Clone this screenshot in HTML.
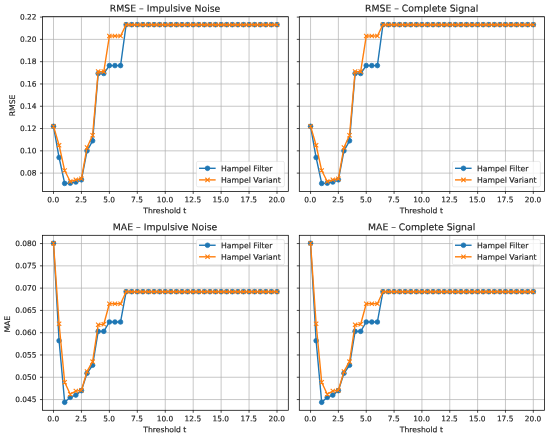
<!DOCTYPE html>
<html lang="en"><head><meta charset="utf-8"><title>Hampel filter error vs threshold</title>
<style>html,body{margin:0;padding:0;background:#fff}body{width:550px;height:439px;overflow:hidden}svg{display:block}</style>
</head><body>
<svg width="550" height="439" viewBox="0 0 550 439" font-family="'DejaVu Sans', 'Liberation Sans', sans-serif" font-size="7.77px" fill="#000"><style>text{fill:#1c1c1c;stroke:#1c1c1c;stroke-width:0.15px;stroke-linejoin:round}</style>
<rect width="550" height="439" fill="#fff"/>
<g>
<clipPath id="c1"><rect x="42.46" y="16.68" width="245.84" height="174.72"/></clipPath>
<path d="M53.50 16.68V191.40M81.44 16.68V191.40M109.38 16.68V191.40M137.31 16.68V191.40M165.25 16.68V191.40M193.19 16.68V191.40M221.12 16.68V191.40M249.06 16.68V191.40M277.00 16.68V191.40M42.46 173.12H288.30M42.46 150.83H288.30M42.46 128.54H288.30M42.46 106.25H288.30M42.46 83.96H288.30M42.46 61.68H288.30M42.46 39.39H288.30M42.46 17.10H288.30" stroke="#b0b0b0" stroke-width="0.700" fill="none"/>
<path d="M53.50 191.40v2.50M81.44 191.40v2.50M109.38 191.40v2.50M137.31 191.40v2.50M165.25 191.40v2.50M193.19 191.40v2.50M221.12 191.40v2.50M249.06 191.40v2.50M277.00 191.40v2.50M42.46 173.12h-2.50M42.46 150.83h-2.50M42.46 128.54h-2.50M42.46 106.25h-2.50M42.46 83.96h-2.50M42.46 61.68h-2.50M42.46 39.39h-2.50M42.46 17.10h-2.50" stroke="#000" stroke-width="0.700" fill="none"/>
<g clip-path="url(#c1)">
<polyline points="53.50,126.31 59.09,157.51 64.67,183.42 70.26,183.15 75.85,182.03 81.44,179.80 87.03,150.83 92.61,140.80 98.20,73.49 103.79,73.49 109.38,65.58 114.96,65.58 120.55,65.58 126.14,24.68 131.72,24.68 137.31,24.68 142.90,24.68 148.49,24.68 154.07,24.68 159.66,24.68 165.25,24.68 170.84,24.68 176.43,24.68 182.01,24.68 187.60,24.68 193.19,24.68 198.78,24.68 204.36,24.68 209.95,24.68 215.54,24.68 221.12,24.68 226.71,24.68 232.30,24.68 237.89,24.68 243.47,24.68 249.06,24.68 254.65,24.68 260.24,24.68 265.82,24.68 271.41,24.68 277.00,24.68" fill="none" stroke="#1f77b4" stroke-width="1.400" stroke-linejoin="round"/>
<circle cx="53.50" cy="126.31" r="2.33" fill="#1f77b4" stroke="#1f77b4" stroke-width="0.777"/>
<circle cx="59.09" cy="157.51" r="2.33" fill="#1f77b4" stroke="#1f77b4" stroke-width="0.777"/>
<circle cx="64.67" cy="183.42" r="2.33" fill="#1f77b4" stroke="#1f77b4" stroke-width="0.777"/>
<circle cx="70.26" cy="183.15" r="2.33" fill="#1f77b4" stroke="#1f77b4" stroke-width="0.777"/>
<circle cx="75.85" cy="182.03" r="2.33" fill="#1f77b4" stroke="#1f77b4" stroke-width="0.777"/>
<circle cx="81.44" cy="179.80" r="2.33" fill="#1f77b4" stroke="#1f77b4" stroke-width="0.777"/>
<circle cx="87.03" cy="150.83" r="2.33" fill="#1f77b4" stroke="#1f77b4" stroke-width="0.777"/>
<circle cx="92.61" cy="140.80" r="2.33" fill="#1f77b4" stroke="#1f77b4" stroke-width="0.777"/>
<circle cx="98.20" cy="73.49" r="2.33" fill="#1f77b4" stroke="#1f77b4" stroke-width="0.777"/>
<circle cx="103.79" cy="73.49" r="2.33" fill="#1f77b4" stroke="#1f77b4" stroke-width="0.777"/>
<circle cx="109.38" cy="65.58" r="2.33" fill="#1f77b4" stroke="#1f77b4" stroke-width="0.777"/>
<circle cx="114.96" cy="65.58" r="2.33" fill="#1f77b4" stroke="#1f77b4" stroke-width="0.777"/>
<circle cx="120.55" cy="65.58" r="2.33" fill="#1f77b4" stroke="#1f77b4" stroke-width="0.777"/>
<circle cx="126.14" cy="24.68" r="2.33" fill="#1f77b4" stroke="#1f77b4" stroke-width="0.777"/>
<circle cx="131.72" cy="24.68" r="2.33" fill="#1f77b4" stroke="#1f77b4" stroke-width="0.777"/>
<circle cx="137.31" cy="24.68" r="2.33" fill="#1f77b4" stroke="#1f77b4" stroke-width="0.777"/>
<circle cx="142.90" cy="24.68" r="2.33" fill="#1f77b4" stroke="#1f77b4" stroke-width="0.777"/>
<circle cx="148.49" cy="24.68" r="2.33" fill="#1f77b4" stroke="#1f77b4" stroke-width="0.777"/>
<circle cx="154.07" cy="24.68" r="2.33" fill="#1f77b4" stroke="#1f77b4" stroke-width="0.777"/>
<circle cx="159.66" cy="24.68" r="2.33" fill="#1f77b4" stroke="#1f77b4" stroke-width="0.777"/>
<circle cx="165.25" cy="24.68" r="2.33" fill="#1f77b4" stroke="#1f77b4" stroke-width="0.777"/>
<circle cx="170.84" cy="24.68" r="2.33" fill="#1f77b4" stroke="#1f77b4" stroke-width="0.777"/>
<circle cx="176.43" cy="24.68" r="2.33" fill="#1f77b4" stroke="#1f77b4" stroke-width="0.777"/>
<circle cx="182.01" cy="24.68" r="2.33" fill="#1f77b4" stroke="#1f77b4" stroke-width="0.777"/>
<circle cx="187.60" cy="24.68" r="2.33" fill="#1f77b4" stroke="#1f77b4" stroke-width="0.777"/>
<circle cx="193.19" cy="24.68" r="2.33" fill="#1f77b4" stroke="#1f77b4" stroke-width="0.777"/>
<circle cx="198.78" cy="24.68" r="2.33" fill="#1f77b4" stroke="#1f77b4" stroke-width="0.777"/>
<circle cx="204.36" cy="24.68" r="2.33" fill="#1f77b4" stroke="#1f77b4" stroke-width="0.777"/>
<circle cx="209.95" cy="24.68" r="2.33" fill="#1f77b4" stroke="#1f77b4" stroke-width="0.777"/>
<circle cx="215.54" cy="24.68" r="2.33" fill="#1f77b4" stroke="#1f77b4" stroke-width="0.777"/>
<circle cx="221.12" cy="24.68" r="2.33" fill="#1f77b4" stroke="#1f77b4" stroke-width="0.777"/>
<circle cx="226.71" cy="24.68" r="2.33" fill="#1f77b4" stroke="#1f77b4" stroke-width="0.777"/>
<circle cx="232.30" cy="24.68" r="2.33" fill="#1f77b4" stroke="#1f77b4" stroke-width="0.777"/>
<circle cx="237.89" cy="24.68" r="2.33" fill="#1f77b4" stroke="#1f77b4" stroke-width="0.777"/>
<circle cx="243.47" cy="24.68" r="2.33" fill="#1f77b4" stroke="#1f77b4" stroke-width="0.777"/>
<circle cx="249.06" cy="24.68" r="2.33" fill="#1f77b4" stroke="#1f77b4" stroke-width="0.777"/>
<circle cx="254.65" cy="24.68" r="2.33" fill="#1f77b4" stroke="#1f77b4" stroke-width="0.777"/>
<circle cx="260.24" cy="24.68" r="2.33" fill="#1f77b4" stroke="#1f77b4" stroke-width="0.777"/>
<circle cx="265.82" cy="24.68" r="2.33" fill="#1f77b4" stroke="#1f77b4" stroke-width="0.777"/>
<circle cx="271.41" cy="24.68" r="2.33" fill="#1f77b4" stroke="#1f77b4" stroke-width="0.777"/>
<circle cx="277.00" cy="24.68" r="2.33" fill="#1f77b4" stroke="#1f77b4" stroke-width="0.777"/>
<polyline points="53.50,126.31 59.09,145.26 64.67,170.55 70.26,181.47 75.85,179.80 81.44,178.69 87.03,147.48 92.61,135.23 98.20,71.59 103.79,71.59 109.38,36.04 114.96,36.04 120.55,36.04 126.14,24.68 131.72,24.68 137.31,24.68 142.90,24.68 148.49,24.68 154.07,24.68 159.66,24.68 165.25,24.68 170.84,24.68 176.43,24.68 182.01,24.68 187.60,24.68 193.19,24.68 198.78,24.68 204.36,24.68 209.95,24.68 215.54,24.68 221.12,24.68 226.71,24.68 232.30,24.68 237.89,24.68 243.47,24.68 249.06,24.68 254.65,24.68 260.24,24.68 265.82,24.68 271.41,24.68 277.00,24.68" fill="none" stroke="#ff7f0e" stroke-width="1.400" stroke-linejoin="round"/>
<path d="M51.35 124.16l4.30 4.30M51.35 128.46l4.30 -4.30M56.94 143.11l4.30 4.30M56.94 147.41l4.30 -4.30M62.52 168.40l4.30 4.30M62.52 172.70l4.30 -4.30M68.11 179.32l4.30 4.30M68.11 183.62l4.30 -4.30M73.70 177.65l4.30 4.30M73.70 181.95l4.30 -4.30M79.29 176.54l4.30 4.30M79.29 180.84l4.30 -4.30M84.88 145.33l4.30 4.30M84.88 149.63l4.30 -4.30M90.46 133.08l4.30 4.30M90.46 137.38l4.30 -4.30M96.05 69.44l4.30 4.30M96.05 73.74l4.30 -4.30M101.64 69.44l4.30 4.30M101.64 73.74l4.30 -4.30M107.22 33.89l4.30 4.30M107.22 38.19l4.30 -4.30M112.81 33.89l4.30 4.30M112.81 38.19l4.30 -4.30M118.40 33.89l4.30 4.30M118.40 38.19l4.30 -4.30M123.99 22.53l4.30 4.30M123.99 26.83l4.30 -4.30M129.57 22.53l4.30 4.30M129.57 26.83l4.30 -4.30M135.16 22.53l4.30 4.30M135.16 26.83l4.30 -4.30M140.75 22.53l4.30 4.30M140.75 26.83l4.30 -4.30M146.34 22.53l4.30 4.30M146.34 26.83l4.30 -4.30M151.92 22.53l4.30 4.30M151.92 26.83l4.30 -4.30M157.51 22.53l4.30 4.30M157.51 26.83l4.30 -4.30M163.10 22.53l4.30 4.30M163.10 26.83l4.30 -4.30M168.69 22.53l4.30 4.30M168.69 26.83l4.30 -4.30M174.28 22.53l4.30 4.30M174.28 26.83l4.30 -4.30M179.86 22.53l4.30 4.30M179.86 26.83l4.30 -4.30M185.45 22.53l4.30 4.30M185.45 26.83l4.30 -4.30M191.04 22.53l4.30 4.30M191.04 26.83l4.30 -4.30M196.62 22.53l4.30 4.30M196.62 26.83l4.30 -4.30M202.21 22.53l4.30 4.30M202.21 26.83l4.30 -4.30M207.80 22.53l4.30 4.30M207.80 26.83l4.30 -4.30M213.39 22.53l4.30 4.30M213.39 26.83l4.30 -4.30M218.97 22.53l4.30 4.30M218.97 26.83l4.30 -4.30M224.56 22.53l4.30 4.30M224.56 26.83l4.30 -4.30M230.15 22.53l4.30 4.30M230.15 26.83l4.30 -4.30M235.74 22.53l4.30 4.30M235.74 26.83l4.30 -4.30M241.32 22.53l4.30 4.30M241.32 26.83l4.30 -4.30M246.91 22.53l4.30 4.30M246.91 26.83l4.30 -4.30M252.50 22.53l4.30 4.30M252.50 26.83l4.30 -4.30M258.09 22.53l4.30 4.30M258.09 26.83l4.30 -4.30M263.68 22.53l4.30 4.30M263.68 26.83l4.30 -4.30M269.26 22.53l4.30 4.30M269.26 26.83l4.30 -4.30M274.85 22.53l4.30 4.30M274.85 26.83l4.30 -4.30" stroke="#ff7f0e" stroke-width="1.100" fill="none"/>
</g>
<rect x="42.46" y="16.68" width="245.84" height="174.72" fill="none" stroke="#000" stroke-width="0.750"/>
<text x="53.20" y="202.30" text-anchor="middle" font-size="7.45px" transform="rotate(0.03 53.20 202.30)">0.0</text>
<text x="81.14" y="202.30" text-anchor="middle" font-size="7.45px" transform="rotate(0.03 81.14 202.30)">2.5</text>
<text x="109.08" y="202.30" text-anchor="middle" font-size="7.45px" transform="rotate(0.03 109.08 202.30)">5.0</text>
<text x="137.01" y="202.30" text-anchor="middle" font-size="7.45px" transform="rotate(0.03 137.01 202.30)">7.5</text>
<text x="164.95" y="202.30" text-anchor="middle" font-size="7.45px" transform="rotate(0.03 164.95 202.30)">10.0</text>
<text x="192.89" y="202.30" text-anchor="middle" font-size="7.45px" transform="rotate(0.03 192.89 202.30)">12.5</text>
<text x="220.82" y="202.30" text-anchor="middle" font-size="7.45px" transform="rotate(0.03 220.82 202.30)">15.0</text>
<text x="248.76" y="202.30" text-anchor="middle" font-size="7.45px" transform="rotate(0.03 248.76 202.30)">17.5</text>
<text x="276.70" y="202.30" text-anchor="middle" font-size="7.45px" transform="rotate(0.03 276.70 202.30)">20.0</text>
<text x="164.78" y="213.37" text-anchor="middle" font-size="7.65px" transform="rotate(0.03 164.78 213.37)">Threshold t</text>
<text x="36.52" y="175.57" text-anchor="end" font-size="7.45px" transform="rotate(0.03 36.52 175.57)">0.08</text>
<text x="36.52" y="153.28" text-anchor="end" font-size="7.45px" transform="rotate(0.03 36.52 153.28)">0.10</text>
<text x="36.52" y="130.99" text-anchor="end" font-size="7.45px" transform="rotate(0.03 36.52 130.99)">0.12</text>
<text x="36.52" y="108.70" text-anchor="end" font-size="7.45px" transform="rotate(0.03 36.52 108.70)">0.14</text>
<text x="36.52" y="86.41" text-anchor="end" font-size="7.45px" transform="rotate(0.03 36.52 86.41)">0.16</text>
<text x="36.52" y="64.13" text-anchor="end" font-size="7.45px" transform="rotate(0.03 36.52 64.13)">0.18</text>
<text x="36.52" y="41.84" text-anchor="end" font-size="7.45px" transform="rotate(0.03 36.52 41.84)">0.20</text>
<text x="36.52" y="19.55" text-anchor="end" font-size="7.45px" transform="rotate(0.03 36.52 19.55)">0.22</text>
<text x="14.99" y="105.39" text-anchor="middle" font-size="7.70px" transform="rotate(-89.97 14.99 105.39)">RMSE</text>
<text x="165.08" y="11.62" text-anchor="middle" font-size="9.32px" transform="rotate(0.03 165.08 11.62)">RMSE – Impulsive Noise</text>
<rect x="196.45" y="161.40" width="87.95" height="25.45" rx="1.55" fill="#fff" fill-opacity="0.8" stroke="#ccc" stroke-opacity="0.5" stroke-width="0.777"/>
<path d="M199.75 168.30H214.95" stroke="#1f77b4" stroke-width="1.400" stroke-linecap="square"/>
<circle cx="207.52" cy="168.30" r="2.33" fill="#1f77b4" stroke="#1f77b4" stroke-width="0.777"/>
<text x="221.00" y="171.20" font-size="7.72px" transform="rotate(0.03 221.00 171.20)">Hampel Filter</text>
<path d="M199.75 179.90H214.95" stroke="#ff7f0e" stroke-width="1.400" stroke-linecap="square"/>
<path d="M205.37 177.75l4.30 4.30M205.37 182.05l4.30 -4.30" stroke="#ff7f0e" stroke-width="1.100" fill="none"/>
<text x="221.00" y="182.80" font-size="7.72px" transform="rotate(0.03 221.00 182.80)">Hampel Variant</text>
</g>
<g>
<clipPath id="c2"><rect x="299.30" y="16.68" width="245.30" height="174.72"/></clipPath>
<path d="M310.55 16.68V191.40M338.39 16.68V191.40M366.24 16.68V191.40M394.08 16.68V191.40M421.92 16.68V191.40M449.77 16.68V191.40M477.61 16.68V191.40M505.46 16.68V191.40M533.30 16.68V191.40M299.30 173.12H544.60M299.30 150.83H544.60M299.30 128.54H544.60M299.30 106.25H544.60M299.30 83.96H544.60M299.30 61.68H544.60M299.30 39.39H544.60M299.30 17.10H544.60" stroke="#b0b0b0" stroke-width="0.700" fill="none"/>
<path d="M310.55 191.40v2.50M338.39 191.40v2.50M366.24 191.40v2.50M394.08 191.40v2.50M421.92 191.40v2.50M449.77 191.40v2.50M477.61 191.40v2.50M505.46 191.40v2.50M533.30 191.40v2.50M299.30 173.12h-2.50M299.30 150.83h-2.50M299.30 128.54h-2.50M299.30 106.25h-2.50M299.30 83.96h-2.50M299.30 61.68h-2.50M299.30 39.39h-2.50M299.30 17.10h-2.50" stroke="#000" stroke-width="0.700" fill="none"/>
<g clip-path="url(#c2)">
<polyline points="310.55,126.31 316.12,157.51 321.69,183.42 327.26,183.15 332.82,182.03 338.39,179.80 343.96,150.83 349.53,140.80 355.10,73.49 360.67,73.49 366.24,65.58 371.81,65.58 377.38,65.58 382.94,24.68 388.51,24.68 394.08,24.68 399.65,24.68 405.22,24.68 410.79,24.68 416.36,24.68 421.92,24.68 427.49,24.68 433.06,24.68 438.63,24.68 444.20,24.68 449.77,24.68 455.34,24.68 460.91,24.68 466.47,24.68 472.04,24.68 477.61,24.68 483.18,24.68 488.75,24.68 494.32,24.68 499.89,24.68 505.46,24.68 511.02,24.68 516.59,24.68 522.16,24.68 527.73,24.68 533.30,24.68" fill="none" stroke="#1f77b4" stroke-width="1.400" stroke-linejoin="round"/>
<circle cx="310.55" cy="126.31" r="2.33" fill="#1f77b4" stroke="#1f77b4" stroke-width="0.777"/>
<circle cx="316.12" cy="157.51" r="2.33" fill="#1f77b4" stroke="#1f77b4" stroke-width="0.777"/>
<circle cx="321.69" cy="183.42" r="2.33" fill="#1f77b4" stroke="#1f77b4" stroke-width="0.777"/>
<circle cx="327.26" cy="183.15" r="2.33" fill="#1f77b4" stroke="#1f77b4" stroke-width="0.777"/>
<circle cx="332.82" cy="182.03" r="2.33" fill="#1f77b4" stroke="#1f77b4" stroke-width="0.777"/>
<circle cx="338.39" cy="179.80" r="2.33" fill="#1f77b4" stroke="#1f77b4" stroke-width="0.777"/>
<circle cx="343.96" cy="150.83" r="2.33" fill="#1f77b4" stroke="#1f77b4" stroke-width="0.777"/>
<circle cx="349.53" cy="140.80" r="2.33" fill="#1f77b4" stroke="#1f77b4" stroke-width="0.777"/>
<circle cx="355.10" cy="73.49" r="2.33" fill="#1f77b4" stroke="#1f77b4" stroke-width="0.777"/>
<circle cx="360.67" cy="73.49" r="2.33" fill="#1f77b4" stroke="#1f77b4" stroke-width="0.777"/>
<circle cx="366.24" cy="65.58" r="2.33" fill="#1f77b4" stroke="#1f77b4" stroke-width="0.777"/>
<circle cx="371.81" cy="65.58" r="2.33" fill="#1f77b4" stroke="#1f77b4" stroke-width="0.777"/>
<circle cx="377.38" cy="65.58" r="2.33" fill="#1f77b4" stroke="#1f77b4" stroke-width="0.777"/>
<circle cx="382.94" cy="24.68" r="2.33" fill="#1f77b4" stroke="#1f77b4" stroke-width="0.777"/>
<circle cx="388.51" cy="24.68" r="2.33" fill="#1f77b4" stroke="#1f77b4" stroke-width="0.777"/>
<circle cx="394.08" cy="24.68" r="2.33" fill="#1f77b4" stroke="#1f77b4" stroke-width="0.777"/>
<circle cx="399.65" cy="24.68" r="2.33" fill="#1f77b4" stroke="#1f77b4" stroke-width="0.777"/>
<circle cx="405.22" cy="24.68" r="2.33" fill="#1f77b4" stroke="#1f77b4" stroke-width="0.777"/>
<circle cx="410.79" cy="24.68" r="2.33" fill="#1f77b4" stroke="#1f77b4" stroke-width="0.777"/>
<circle cx="416.36" cy="24.68" r="2.33" fill="#1f77b4" stroke="#1f77b4" stroke-width="0.777"/>
<circle cx="421.92" cy="24.68" r="2.33" fill="#1f77b4" stroke="#1f77b4" stroke-width="0.777"/>
<circle cx="427.49" cy="24.68" r="2.33" fill="#1f77b4" stroke="#1f77b4" stroke-width="0.777"/>
<circle cx="433.06" cy="24.68" r="2.33" fill="#1f77b4" stroke="#1f77b4" stroke-width="0.777"/>
<circle cx="438.63" cy="24.68" r="2.33" fill="#1f77b4" stroke="#1f77b4" stroke-width="0.777"/>
<circle cx="444.20" cy="24.68" r="2.33" fill="#1f77b4" stroke="#1f77b4" stroke-width="0.777"/>
<circle cx="449.77" cy="24.68" r="2.33" fill="#1f77b4" stroke="#1f77b4" stroke-width="0.777"/>
<circle cx="455.34" cy="24.68" r="2.33" fill="#1f77b4" stroke="#1f77b4" stroke-width="0.777"/>
<circle cx="460.91" cy="24.68" r="2.33" fill="#1f77b4" stroke="#1f77b4" stroke-width="0.777"/>
<circle cx="466.47" cy="24.68" r="2.33" fill="#1f77b4" stroke="#1f77b4" stroke-width="0.777"/>
<circle cx="472.04" cy="24.68" r="2.33" fill="#1f77b4" stroke="#1f77b4" stroke-width="0.777"/>
<circle cx="477.61" cy="24.68" r="2.33" fill="#1f77b4" stroke="#1f77b4" stroke-width="0.777"/>
<circle cx="483.18" cy="24.68" r="2.33" fill="#1f77b4" stroke="#1f77b4" stroke-width="0.777"/>
<circle cx="488.75" cy="24.68" r="2.33" fill="#1f77b4" stroke="#1f77b4" stroke-width="0.777"/>
<circle cx="494.32" cy="24.68" r="2.33" fill="#1f77b4" stroke="#1f77b4" stroke-width="0.777"/>
<circle cx="499.89" cy="24.68" r="2.33" fill="#1f77b4" stroke="#1f77b4" stroke-width="0.777"/>
<circle cx="505.46" cy="24.68" r="2.33" fill="#1f77b4" stroke="#1f77b4" stroke-width="0.777"/>
<circle cx="511.02" cy="24.68" r="2.33" fill="#1f77b4" stroke="#1f77b4" stroke-width="0.777"/>
<circle cx="516.59" cy="24.68" r="2.33" fill="#1f77b4" stroke="#1f77b4" stroke-width="0.777"/>
<circle cx="522.16" cy="24.68" r="2.33" fill="#1f77b4" stroke="#1f77b4" stroke-width="0.777"/>
<circle cx="527.73" cy="24.68" r="2.33" fill="#1f77b4" stroke="#1f77b4" stroke-width="0.777"/>
<circle cx="533.30" cy="24.68" r="2.33" fill="#1f77b4" stroke="#1f77b4" stroke-width="0.777"/>
<polyline points="310.55,126.31 316.12,145.26 321.69,170.55 327.26,181.47 332.82,179.80 338.39,178.69 343.96,147.48 349.53,135.23 355.10,71.59 360.67,71.59 366.24,36.04 371.81,36.04 377.38,36.04 382.94,24.68 388.51,24.68 394.08,24.68 399.65,24.68 405.22,24.68 410.79,24.68 416.36,24.68 421.92,24.68 427.49,24.68 433.06,24.68 438.63,24.68 444.20,24.68 449.77,24.68 455.34,24.68 460.91,24.68 466.47,24.68 472.04,24.68 477.61,24.68 483.18,24.68 488.75,24.68 494.32,24.68 499.89,24.68 505.46,24.68 511.02,24.68 516.59,24.68 522.16,24.68 527.73,24.68 533.30,24.68" fill="none" stroke="#ff7f0e" stroke-width="1.400" stroke-linejoin="round"/>
<path d="M308.40 124.16l4.30 4.30M308.40 128.46l4.30 -4.30M313.97 143.11l4.30 4.30M313.97 147.41l4.30 -4.30M319.54 168.40l4.30 4.30M319.54 172.70l4.30 -4.30M325.11 179.32l4.30 4.30M325.11 183.62l4.30 -4.30M330.68 177.65l4.30 4.30M330.68 181.95l4.30 -4.30M336.24 176.54l4.30 4.30M336.24 180.84l4.30 -4.30M341.81 145.33l4.30 4.30M341.81 149.63l4.30 -4.30M347.38 133.08l4.30 4.30M347.38 137.38l4.30 -4.30M352.95 69.44l4.30 4.30M352.95 73.74l4.30 -4.30M358.52 69.44l4.30 4.30M358.52 73.74l4.30 -4.30M364.09 33.89l4.30 4.30M364.09 38.19l4.30 -4.30M369.66 33.89l4.30 4.30M369.66 38.19l4.30 -4.30M375.23 33.89l4.30 4.30M375.23 38.19l4.30 -4.30M380.79 22.53l4.30 4.30M380.79 26.83l4.30 -4.30M386.36 22.53l4.30 4.30M386.36 26.83l4.30 -4.30M391.93 22.53l4.30 4.30M391.93 26.83l4.30 -4.30M397.50 22.53l4.30 4.30M397.50 26.83l4.30 -4.30M403.07 22.53l4.30 4.30M403.07 26.83l4.30 -4.30M408.64 22.53l4.30 4.30M408.64 26.83l4.30 -4.30M414.21 22.53l4.30 4.30M414.21 26.83l4.30 -4.30M419.77 22.53l4.30 4.30M419.77 26.83l4.30 -4.30M425.34 22.53l4.30 4.30M425.34 26.83l4.30 -4.30M430.91 22.53l4.30 4.30M430.91 26.83l4.30 -4.30M436.48 22.53l4.30 4.30M436.48 26.83l4.30 -4.30M442.05 22.53l4.30 4.30M442.05 26.83l4.30 -4.30M447.62 22.53l4.30 4.30M447.62 26.83l4.30 -4.30M453.19 22.53l4.30 4.30M453.19 26.83l4.30 -4.30M458.76 22.53l4.30 4.30M458.76 26.83l4.30 -4.30M464.32 22.53l4.30 4.30M464.32 26.83l4.30 -4.30M469.89 22.53l4.30 4.30M469.89 26.83l4.30 -4.30M475.46 22.53l4.30 4.30M475.46 26.83l4.30 -4.30M481.03 22.53l4.30 4.30M481.03 26.83l4.30 -4.30M486.60 22.53l4.30 4.30M486.60 26.83l4.30 -4.30M492.17 22.53l4.30 4.30M492.17 26.83l4.30 -4.30M497.74 22.53l4.30 4.30M497.74 26.83l4.30 -4.30M503.31 22.53l4.30 4.30M503.31 26.83l4.30 -4.30M508.88 22.53l4.30 4.30M508.88 26.83l4.30 -4.30M514.44 22.53l4.30 4.30M514.44 26.83l4.30 -4.30M520.01 22.53l4.30 4.30M520.01 26.83l4.30 -4.30M525.58 22.53l4.30 4.30M525.58 26.83l4.30 -4.30M531.15 22.53l4.30 4.30M531.15 26.83l4.30 -4.30" stroke="#ff7f0e" stroke-width="1.100" fill="none"/>
</g>
<rect x="299.30" y="16.68" width="245.30" height="174.72" fill="none" stroke="#000" stroke-width="0.750"/>
<text x="310.25" y="202.30" text-anchor="middle" font-size="7.45px" transform="rotate(0.03 310.25 202.30)">0.0</text>
<text x="338.09" y="202.30" text-anchor="middle" font-size="7.45px" transform="rotate(0.03 338.09 202.30)">2.5</text>
<text x="365.94" y="202.30" text-anchor="middle" font-size="7.45px" transform="rotate(0.03 365.94 202.30)">5.0</text>
<text x="393.78" y="202.30" text-anchor="middle" font-size="7.45px" transform="rotate(0.03 393.78 202.30)">7.5</text>
<text x="421.62" y="202.30" text-anchor="middle" font-size="7.45px" transform="rotate(0.03 421.62 202.30)">10.0</text>
<text x="449.47" y="202.30" text-anchor="middle" font-size="7.45px" transform="rotate(0.03 449.47 202.30)">12.5</text>
<text x="477.31" y="202.30" text-anchor="middle" font-size="7.45px" transform="rotate(0.03 477.31 202.30)">15.0</text>
<text x="505.16" y="202.30" text-anchor="middle" font-size="7.45px" transform="rotate(0.03 505.16 202.30)">17.5</text>
<text x="533.00" y="202.30" text-anchor="middle" font-size="7.45px" transform="rotate(0.03 533.00 202.30)">20.0</text>
<text x="421.35" y="213.37" text-anchor="middle" font-size="7.65px" transform="rotate(0.03 421.35 213.37)">Threshold t</text>
<text x="421.65" y="11.62" text-anchor="middle" font-size="9.32px" transform="rotate(0.03 421.65 11.62)">RMSE – Complete Signal</text>
<rect x="452.40" y="161.40" width="87.95" height="25.45" rx="1.55" fill="#fff" fill-opacity="0.8" stroke="#ccc" stroke-opacity="0.5" stroke-width="0.777"/>
<path d="M455.70 168.30H470.90" stroke="#1f77b4" stroke-width="1.400" stroke-linecap="square"/>
<circle cx="463.47" cy="168.30" r="2.33" fill="#1f77b4" stroke="#1f77b4" stroke-width="0.777"/>
<text x="476.95" y="171.20" font-size="7.72px" transform="rotate(0.03 476.95 171.20)">Hampel Filter</text>
<path d="M455.70 179.90H470.90" stroke="#ff7f0e" stroke-width="1.400" stroke-linecap="square"/>
<path d="M461.32 177.75l4.30 4.30M461.32 182.05l4.30 -4.30" stroke="#ff7f0e" stroke-width="1.100" fill="none"/>
<text x="476.95" y="182.80" font-size="7.72px" transform="rotate(0.03 476.95 182.80)">Hampel Variant</text>
</g>
<g>
<clipPath id="c3"><rect x="42.46" y="235.30" width="245.84" height="174.98"/></clipPath>
<path d="M53.50 235.30V410.28M81.44 235.30V410.28M109.38 235.30V410.28M137.31 235.30V410.28M165.25 235.30V410.28M193.19 235.30V410.28M221.12 235.30V410.28M249.06 235.30V410.28M277.00 235.30V410.28M42.46 399.55H288.30M42.46 377.26H288.30M42.46 354.98H288.30M42.46 332.69H288.30M42.46 310.41H288.30M42.46 288.12H288.30M42.46 265.84H288.30M42.46 243.55H288.30" stroke="#b0b0b0" stroke-width="0.700" fill="none"/>
<path d="M53.50 410.28v2.50M81.44 410.28v2.50M109.38 410.28v2.50M137.31 410.28v2.50M165.25 410.28v2.50M193.19 410.28v2.50M221.12 410.28v2.50M249.06 410.28v2.50M277.00 410.28v2.50M42.46 399.55h-2.50M42.46 377.26h-2.50M42.46 354.98h-2.50M42.46 332.69h-2.50M42.46 310.41h-2.50M42.46 288.12h-2.50M42.46 265.84h-2.50M42.46 243.55h-2.50" stroke="#000" stroke-width="0.700" fill="none"/>
<g clip-path="url(#c3)">
<polyline points="53.50,243.24 59.09,340.71 64.67,402.31 70.26,397.32 75.85,395.09 81.44,390.63 87.03,373.25 92.61,365.23 98.20,331.35 103.79,331.35 109.38,321.99 114.96,321.99 120.55,321.99 126.14,291.69 131.72,291.69 137.31,291.69 142.90,291.69 148.49,291.69 154.07,291.69 159.66,291.69 165.25,291.69 170.84,291.69 176.43,291.69 182.01,291.69 187.60,291.69 193.19,291.69 198.78,291.69 204.36,291.69 209.95,291.69 215.54,291.69 221.12,291.69 226.71,291.69 232.30,291.69 237.89,291.69 243.47,291.69 249.06,291.69 254.65,291.69 260.24,291.69 265.82,291.69 271.41,291.69 277.00,291.69" fill="none" stroke="#1f77b4" stroke-width="1.400" stroke-linejoin="round"/>
<circle cx="53.50" cy="243.24" r="2.33" fill="#1f77b4" stroke="#1f77b4" stroke-width="0.777"/>
<circle cx="59.09" cy="340.71" r="2.33" fill="#1f77b4" stroke="#1f77b4" stroke-width="0.777"/>
<circle cx="64.67" cy="402.31" r="2.33" fill="#1f77b4" stroke="#1f77b4" stroke-width="0.777"/>
<circle cx="70.26" cy="397.32" r="2.33" fill="#1f77b4" stroke="#1f77b4" stroke-width="0.777"/>
<circle cx="75.85" cy="395.09" r="2.33" fill="#1f77b4" stroke="#1f77b4" stroke-width="0.777"/>
<circle cx="81.44" cy="390.63" r="2.33" fill="#1f77b4" stroke="#1f77b4" stroke-width="0.777"/>
<circle cx="87.03" cy="373.25" r="2.33" fill="#1f77b4" stroke="#1f77b4" stroke-width="0.777"/>
<circle cx="92.61" cy="365.23" r="2.33" fill="#1f77b4" stroke="#1f77b4" stroke-width="0.777"/>
<circle cx="98.20" cy="331.35" r="2.33" fill="#1f77b4" stroke="#1f77b4" stroke-width="0.777"/>
<circle cx="103.79" cy="331.35" r="2.33" fill="#1f77b4" stroke="#1f77b4" stroke-width="0.777"/>
<circle cx="109.38" cy="321.99" r="2.33" fill="#1f77b4" stroke="#1f77b4" stroke-width="0.777"/>
<circle cx="114.96" cy="321.99" r="2.33" fill="#1f77b4" stroke="#1f77b4" stroke-width="0.777"/>
<circle cx="120.55" cy="321.99" r="2.33" fill="#1f77b4" stroke="#1f77b4" stroke-width="0.777"/>
<circle cx="126.14" cy="291.69" r="2.33" fill="#1f77b4" stroke="#1f77b4" stroke-width="0.777"/>
<circle cx="131.72" cy="291.69" r="2.33" fill="#1f77b4" stroke="#1f77b4" stroke-width="0.777"/>
<circle cx="137.31" cy="291.69" r="2.33" fill="#1f77b4" stroke="#1f77b4" stroke-width="0.777"/>
<circle cx="142.90" cy="291.69" r="2.33" fill="#1f77b4" stroke="#1f77b4" stroke-width="0.777"/>
<circle cx="148.49" cy="291.69" r="2.33" fill="#1f77b4" stroke="#1f77b4" stroke-width="0.777"/>
<circle cx="154.07" cy="291.69" r="2.33" fill="#1f77b4" stroke="#1f77b4" stroke-width="0.777"/>
<circle cx="159.66" cy="291.69" r="2.33" fill="#1f77b4" stroke="#1f77b4" stroke-width="0.777"/>
<circle cx="165.25" cy="291.69" r="2.33" fill="#1f77b4" stroke="#1f77b4" stroke-width="0.777"/>
<circle cx="170.84" cy="291.69" r="2.33" fill="#1f77b4" stroke="#1f77b4" stroke-width="0.777"/>
<circle cx="176.43" cy="291.69" r="2.33" fill="#1f77b4" stroke="#1f77b4" stroke-width="0.777"/>
<circle cx="182.01" cy="291.69" r="2.33" fill="#1f77b4" stroke="#1f77b4" stroke-width="0.777"/>
<circle cx="187.60" cy="291.69" r="2.33" fill="#1f77b4" stroke="#1f77b4" stroke-width="0.777"/>
<circle cx="193.19" cy="291.69" r="2.33" fill="#1f77b4" stroke="#1f77b4" stroke-width="0.777"/>
<circle cx="198.78" cy="291.69" r="2.33" fill="#1f77b4" stroke="#1f77b4" stroke-width="0.777"/>
<circle cx="204.36" cy="291.69" r="2.33" fill="#1f77b4" stroke="#1f77b4" stroke-width="0.777"/>
<circle cx="209.95" cy="291.69" r="2.33" fill="#1f77b4" stroke="#1f77b4" stroke-width="0.777"/>
<circle cx="215.54" cy="291.69" r="2.33" fill="#1f77b4" stroke="#1f77b4" stroke-width="0.777"/>
<circle cx="221.12" cy="291.69" r="2.33" fill="#1f77b4" stroke="#1f77b4" stroke-width="0.777"/>
<circle cx="226.71" cy="291.69" r="2.33" fill="#1f77b4" stroke="#1f77b4" stroke-width="0.777"/>
<circle cx="232.30" cy="291.69" r="2.33" fill="#1f77b4" stroke="#1f77b4" stroke-width="0.777"/>
<circle cx="237.89" cy="291.69" r="2.33" fill="#1f77b4" stroke="#1f77b4" stroke-width="0.777"/>
<circle cx="243.47" cy="291.69" r="2.33" fill="#1f77b4" stroke="#1f77b4" stroke-width="0.777"/>
<circle cx="249.06" cy="291.69" r="2.33" fill="#1f77b4" stroke="#1f77b4" stroke-width="0.777"/>
<circle cx="254.65" cy="291.69" r="2.33" fill="#1f77b4" stroke="#1f77b4" stroke-width="0.777"/>
<circle cx="260.24" cy="291.69" r="2.33" fill="#1f77b4" stroke="#1f77b4" stroke-width="0.777"/>
<circle cx="265.82" cy="291.69" r="2.33" fill="#1f77b4" stroke="#1f77b4" stroke-width="0.777"/>
<circle cx="271.41" cy="291.69" r="2.33" fill="#1f77b4" stroke="#1f77b4" stroke-width="0.777"/>
<circle cx="277.00" cy="291.69" r="2.33" fill="#1f77b4" stroke="#1f77b4" stroke-width="0.777"/>
<polyline points="53.50,243.24 59.09,323.78 64.67,382.17 70.26,394.20 75.85,391.08 81.44,390.19 87.03,371.47 92.61,361.66 98.20,324.67 103.79,324.22 109.38,303.72 114.96,303.72 120.55,303.72 126.14,291.69 131.72,291.69 137.31,291.69 142.90,291.69 148.49,291.69 154.07,291.69 159.66,291.69 165.25,291.69 170.84,291.69 176.43,291.69 182.01,291.69 187.60,291.69 193.19,291.69 198.78,291.69 204.36,291.69 209.95,291.69 215.54,291.69 221.12,291.69 226.71,291.69 232.30,291.69 237.89,291.69 243.47,291.69 249.06,291.69 254.65,291.69 260.24,291.69 265.82,291.69 271.41,291.69 277.00,291.69" fill="none" stroke="#ff7f0e" stroke-width="1.400" stroke-linejoin="round"/>
<path d="M51.35 241.09l4.30 4.30M51.35 245.39l4.30 -4.30M56.94 321.63l4.30 4.30M56.94 325.93l4.30 -4.30M62.52 380.02l4.30 4.30M62.52 384.32l4.30 -4.30M68.11 392.05l4.30 4.30M68.11 396.35l4.30 -4.30M73.70 388.93l4.30 4.30M73.70 393.23l4.30 -4.30M79.29 388.04l4.30 4.30M79.29 392.34l4.30 -4.30M84.88 369.32l4.30 4.30M84.88 373.62l4.30 -4.30M90.46 359.51l4.30 4.30M90.46 363.81l4.30 -4.30M96.05 322.52l4.30 4.30M96.05 326.82l4.30 -4.30M101.64 322.07l4.30 4.30M101.64 326.37l4.30 -4.30M107.22 301.57l4.30 4.30M107.22 305.87l4.30 -4.30M112.81 301.57l4.30 4.30M112.81 305.87l4.30 -4.30M118.40 301.57l4.30 4.30M118.40 305.87l4.30 -4.30M123.99 289.54l4.30 4.30M123.99 293.84l4.30 -4.30M129.57 289.54l4.30 4.30M129.57 293.84l4.30 -4.30M135.16 289.54l4.30 4.30M135.16 293.84l4.30 -4.30M140.75 289.54l4.30 4.30M140.75 293.84l4.30 -4.30M146.34 289.54l4.30 4.30M146.34 293.84l4.30 -4.30M151.92 289.54l4.30 4.30M151.92 293.84l4.30 -4.30M157.51 289.54l4.30 4.30M157.51 293.84l4.30 -4.30M163.10 289.54l4.30 4.30M163.10 293.84l4.30 -4.30M168.69 289.54l4.30 4.30M168.69 293.84l4.30 -4.30M174.28 289.54l4.30 4.30M174.28 293.84l4.30 -4.30M179.86 289.54l4.30 4.30M179.86 293.84l4.30 -4.30M185.45 289.54l4.30 4.30M185.45 293.84l4.30 -4.30M191.04 289.54l4.30 4.30M191.04 293.84l4.30 -4.30M196.62 289.54l4.30 4.30M196.62 293.84l4.30 -4.30M202.21 289.54l4.30 4.30M202.21 293.84l4.30 -4.30M207.80 289.54l4.30 4.30M207.80 293.84l4.30 -4.30M213.39 289.54l4.30 4.30M213.39 293.84l4.30 -4.30M218.97 289.54l4.30 4.30M218.97 293.84l4.30 -4.30M224.56 289.54l4.30 4.30M224.56 293.84l4.30 -4.30M230.15 289.54l4.30 4.30M230.15 293.84l4.30 -4.30M235.74 289.54l4.30 4.30M235.74 293.84l4.30 -4.30M241.32 289.54l4.30 4.30M241.32 293.84l4.30 -4.30M246.91 289.54l4.30 4.30M246.91 293.84l4.30 -4.30M252.50 289.54l4.30 4.30M252.50 293.84l4.30 -4.30M258.09 289.54l4.30 4.30M258.09 293.84l4.30 -4.30M263.68 289.54l4.30 4.30M263.68 293.84l4.30 -4.30M269.26 289.54l4.30 4.30M269.26 293.84l4.30 -4.30M274.85 289.54l4.30 4.30M274.85 293.84l4.30 -4.30" stroke="#ff7f0e" stroke-width="1.100" fill="none"/>
</g>
<rect x="42.46" y="235.30" width="245.84" height="174.98" fill="none" stroke="#000" stroke-width="0.750"/>
<text x="53.20" y="421.18" text-anchor="middle" font-size="7.45px" transform="rotate(0.03 53.20 421.18)">0.0</text>
<text x="81.14" y="421.18" text-anchor="middle" font-size="7.45px" transform="rotate(0.03 81.14 421.18)">2.5</text>
<text x="109.08" y="421.18" text-anchor="middle" font-size="7.45px" transform="rotate(0.03 109.08 421.18)">5.0</text>
<text x="137.01" y="421.18" text-anchor="middle" font-size="7.45px" transform="rotate(0.03 137.01 421.18)">7.5</text>
<text x="164.95" y="421.18" text-anchor="middle" font-size="7.45px" transform="rotate(0.03 164.95 421.18)">10.0</text>
<text x="192.89" y="421.18" text-anchor="middle" font-size="7.45px" transform="rotate(0.03 192.89 421.18)">12.5</text>
<text x="220.82" y="421.18" text-anchor="middle" font-size="7.45px" transform="rotate(0.03 220.82 421.18)">15.0</text>
<text x="248.76" y="421.18" text-anchor="middle" font-size="7.45px" transform="rotate(0.03 248.76 421.18)">17.5</text>
<text x="276.70" y="421.18" text-anchor="middle" font-size="7.45px" transform="rotate(0.03 276.70 421.18)">20.0</text>
<text x="164.78" y="432.25" text-anchor="middle" font-size="7.65px" transform="rotate(0.03 164.78 432.25)">Threshold t</text>
<text x="36.52" y="402.00" text-anchor="end" font-size="7.45px" transform="rotate(0.03 36.52 402.00)">0.045</text>
<text x="36.52" y="379.71" text-anchor="end" font-size="7.45px" transform="rotate(0.03 36.52 379.71)">0.050</text>
<text x="36.52" y="357.43" text-anchor="end" font-size="7.45px" transform="rotate(0.03 36.52 357.43)">0.055</text>
<text x="36.52" y="335.14" text-anchor="end" font-size="7.45px" transform="rotate(0.03 36.52 335.14)">0.060</text>
<text x="36.52" y="312.86" text-anchor="end" font-size="7.45px" transform="rotate(0.03 36.52 312.86)">0.065</text>
<text x="36.52" y="290.57" text-anchor="end" font-size="7.45px" transform="rotate(0.03 36.52 290.57)">0.070</text>
<text x="36.52" y="268.29" text-anchor="end" font-size="7.45px" transform="rotate(0.03 36.52 268.29)">0.075</text>
<text x="36.52" y="246.00" text-anchor="end" font-size="7.45px" transform="rotate(0.03 36.52 246.00)">0.080</text>
<text x="10.05" y="324.14" text-anchor="middle" font-size="7.70px" transform="rotate(-89.97 10.05 324.14)">MAE</text>
<text x="165.08" y="230.24" text-anchor="middle" font-size="9.32px" transform="rotate(0.03 165.08 230.24)">MAE – Impulsive Noise</text>
<rect x="196.45" y="239.60" width="87.95" height="25.10" rx="1.55" fill="#fff" fill-opacity="0.8" stroke="#ccc" stroke-opacity="0.5" stroke-width="0.777"/>
<path d="M199.75 245.25H214.95" stroke="#1f77b4" stroke-width="1.400" stroke-linecap="square"/>
<circle cx="207.52" cy="245.25" r="2.33" fill="#1f77b4" stroke="#1f77b4" stroke-width="0.777"/>
<text x="221.00" y="248.15" font-size="7.72px" transform="rotate(0.03 221.00 248.15)">Hampel Filter</text>
<path d="M199.75 256.80H214.95" stroke="#ff7f0e" stroke-width="1.400" stroke-linecap="square"/>
<path d="M205.37 254.65l4.30 4.30M205.37 258.95l4.30 -4.30" stroke="#ff7f0e" stroke-width="1.100" fill="none"/>
<text x="221.00" y="259.70" font-size="7.72px" transform="rotate(0.03 221.00 259.70)">Hampel Variant</text>
</g>
<g>
<clipPath id="c4"><rect x="299.30" y="235.30" width="245.30" height="174.98"/></clipPath>
<path d="M310.55 235.30V410.28M338.39 235.30V410.28M366.24 235.30V410.28M394.08 235.30V410.28M421.92 235.30V410.28M449.77 235.30V410.28M477.61 235.30V410.28M505.46 235.30V410.28M533.30 235.30V410.28M299.30 399.55H544.60M299.30 377.26H544.60M299.30 354.98H544.60M299.30 332.69H544.60M299.30 310.41H544.60M299.30 288.12H544.60M299.30 265.84H544.60M299.30 243.55H544.60" stroke="#b0b0b0" stroke-width="0.700" fill="none"/>
<path d="M310.55 410.28v2.50M338.39 410.28v2.50M366.24 410.28v2.50M394.08 410.28v2.50M421.92 410.28v2.50M449.77 410.28v2.50M477.61 410.28v2.50M505.46 410.28v2.50M533.30 410.28v2.50M299.30 399.55h-2.50M299.30 377.26h-2.50M299.30 354.98h-2.50M299.30 332.69h-2.50M299.30 310.41h-2.50M299.30 288.12h-2.50M299.30 265.84h-2.50M299.30 243.55h-2.50" stroke="#000" stroke-width="0.700" fill="none"/>
<g clip-path="url(#c4)">
<polyline points="310.55,243.24 316.12,340.71 321.69,402.31 327.26,397.32 332.82,395.09 338.39,390.63 343.96,373.25 349.53,365.23 355.10,331.35 360.67,331.35 366.24,321.99 371.81,321.99 377.38,321.99 382.94,291.69 388.51,291.69 394.08,291.69 399.65,291.69 405.22,291.69 410.79,291.69 416.36,291.69 421.92,291.69 427.49,291.69 433.06,291.69 438.63,291.69 444.20,291.69 449.77,291.69 455.34,291.69 460.91,291.69 466.47,291.69 472.04,291.69 477.61,291.69 483.18,291.69 488.75,291.69 494.32,291.69 499.89,291.69 505.46,291.69 511.02,291.69 516.59,291.69 522.16,291.69 527.73,291.69 533.30,291.69" fill="none" stroke="#1f77b4" stroke-width="1.400" stroke-linejoin="round"/>
<circle cx="310.55" cy="243.24" r="2.33" fill="#1f77b4" stroke="#1f77b4" stroke-width="0.777"/>
<circle cx="316.12" cy="340.71" r="2.33" fill="#1f77b4" stroke="#1f77b4" stroke-width="0.777"/>
<circle cx="321.69" cy="402.31" r="2.33" fill="#1f77b4" stroke="#1f77b4" stroke-width="0.777"/>
<circle cx="327.26" cy="397.32" r="2.33" fill="#1f77b4" stroke="#1f77b4" stroke-width="0.777"/>
<circle cx="332.82" cy="395.09" r="2.33" fill="#1f77b4" stroke="#1f77b4" stroke-width="0.777"/>
<circle cx="338.39" cy="390.63" r="2.33" fill="#1f77b4" stroke="#1f77b4" stroke-width="0.777"/>
<circle cx="343.96" cy="373.25" r="2.33" fill="#1f77b4" stroke="#1f77b4" stroke-width="0.777"/>
<circle cx="349.53" cy="365.23" r="2.33" fill="#1f77b4" stroke="#1f77b4" stroke-width="0.777"/>
<circle cx="355.10" cy="331.35" r="2.33" fill="#1f77b4" stroke="#1f77b4" stroke-width="0.777"/>
<circle cx="360.67" cy="331.35" r="2.33" fill="#1f77b4" stroke="#1f77b4" stroke-width="0.777"/>
<circle cx="366.24" cy="321.99" r="2.33" fill="#1f77b4" stroke="#1f77b4" stroke-width="0.777"/>
<circle cx="371.81" cy="321.99" r="2.33" fill="#1f77b4" stroke="#1f77b4" stroke-width="0.777"/>
<circle cx="377.38" cy="321.99" r="2.33" fill="#1f77b4" stroke="#1f77b4" stroke-width="0.777"/>
<circle cx="382.94" cy="291.69" r="2.33" fill="#1f77b4" stroke="#1f77b4" stroke-width="0.777"/>
<circle cx="388.51" cy="291.69" r="2.33" fill="#1f77b4" stroke="#1f77b4" stroke-width="0.777"/>
<circle cx="394.08" cy="291.69" r="2.33" fill="#1f77b4" stroke="#1f77b4" stroke-width="0.777"/>
<circle cx="399.65" cy="291.69" r="2.33" fill="#1f77b4" stroke="#1f77b4" stroke-width="0.777"/>
<circle cx="405.22" cy="291.69" r="2.33" fill="#1f77b4" stroke="#1f77b4" stroke-width="0.777"/>
<circle cx="410.79" cy="291.69" r="2.33" fill="#1f77b4" stroke="#1f77b4" stroke-width="0.777"/>
<circle cx="416.36" cy="291.69" r="2.33" fill="#1f77b4" stroke="#1f77b4" stroke-width="0.777"/>
<circle cx="421.92" cy="291.69" r="2.33" fill="#1f77b4" stroke="#1f77b4" stroke-width="0.777"/>
<circle cx="427.49" cy="291.69" r="2.33" fill="#1f77b4" stroke="#1f77b4" stroke-width="0.777"/>
<circle cx="433.06" cy="291.69" r="2.33" fill="#1f77b4" stroke="#1f77b4" stroke-width="0.777"/>
<circle cx="438.63" cy="291.69" r="2.33" fill="#1f77b4" stroke="#1f77b4" stroke-width="0.777"/>
<circle cx="444.20" cy="291.69" r="2.33" fill="#1f77b4" stroke="#1f77b4" stroke-width="0.777"/>
<circle cx="449.77" cy="291.69" r="2.33" fill="#1f77b4" stroke="#1f77b4" stroke-width="0.777"/>
<circle cx="455.34" cy="291.69" r="2.33" fill="#1f77b4" stroke="#1f77b4" stroke-width="0.777"/>
<circle cx="460.91" cy="291.69" r="2.33" fill="#1f77b4" stroke="#1f77b4" stroke-width="0.777"/>
<circle cx="466.47" cy="291.69" r="2.33" fill="#1f77b4" stroke="#1f77b4" stroke-width="0.777"/>
<circle cx="472.04" cy="291.69" r="2.33" fill="#1f77b4" stroke="#1f77b4" stroke-width="0.777"/>
<circle cx="477.61" cy="291.69" r="2.33" fill="#1f77b4" stroke="#1f77b4" stroke-width="0.777"/>
<circle cx="483.18" cy="291.69" r="2.33" fill="#1f77b4" stroke="#1f77b4" stroke-width="0.777"/>
<circle cx="488.75" cy="291.69" r="2.33" fill="#1f77b4" stroke="#1f77b4" stroke-width="0.777"/>
<circle cx="494.32" cy="291.69" r="2.33" fill="#1f77b4" stroke="#1f77b4" stroke-width="0.777"/>
<circle cx="499.89" cy="291.69" r="2.33" fill="#1f77b4" stroke="#1f77b4" stroke-width="0.777"/>
<circle cx="505.46" cy="291.69" r="2.33" fill="#1f77b4" stroke="#1f77b4" stroke-width="0.777"/>
<circle cx="511.02" cy="291.69" r="2.33" fill="#1f77b4" stroke="#1f77b4" stroke-width="0.777"/>
<circle cx="516.59" cy="291.69" r="2.33" fill="#1f77b4" stroke="#1f77b4" stroke-width="0.777"/>
<circle cx="522.16" cy="291.69" r="2.33" fill="#1f77b4" stroke="#1f77b4" stroke-width="0.777"/>
<circle cx="527.73" cy="291.69" r="2.33" fill="#1f77b4" stroke="#1f77b4" stroke-width="0.777"/>
<circle cx="533.30" cy="291.69" r="2.33" fill="#1f77b4" stroke="#1f77b4" stroke-width="0.777"/>
<polyline points="310.55,243.24 316.12,323.78 321.69,382.17 327.26,394.20 332.82,391.08 338.39,390.19 343.96,371.47 349.53,361.66 355.10,324.67 360.67,324.22 366.24,303.72 371.81,303.72 377.38,303.72 382.94,291.69 388.51,291.69 394.08,291.69 399.65,291.69 405.22,291.69 410.79,291.69 416.36,291.69 421.92,291.69 427.49,291.69 433.06,291.69 438.63,291.69 444.20,291.69 449.77,291.69 455.34,291.69 460.91,291.69 466.47,291.69 472.04,291.69 477.61,291.69 483.18,291.69 488.75,291.69 494.32,291.69 499.89,291.69 505.46,291.69 511.02,291.69 516.59,291.69 522.16,291.69 527.73,291.69 533.30,291.69" fill="none" stroke="#ff7f0e" stroke-width="1.400" stroke-linejoin="round"/>
<path d="M308.40 241.09l4.30 4.30M308.40 245.39l4.30 -4.30M313.97 321.63l4.30 4.30M313.97 325.93l4.30 -4.30M319.54 380.02l4.30 4.30M319.54 384.32l4.30 -4.30M325.11 392.05l4.30 4.30M325.11 396.35l4.30 -4.30M330.68 388.93l4.30 4.30M330.68 393.23l4.30 -4.30M336.24 388.04l4.30 4.30M336.24 392.34l4.30 -4.30M341.81 369.32l4.30 4.30M341.81 373.62l4.30 -4.30M347.38 359.51l4.30 4.30M347.38 363.81l4.30 -4.30M352.95 322.52l4.30 4.30M352.95 326.82l4.30 -4.30M358.52 322.07l4.30 4.30M358.52 326.37l4.30 -4.30M364.09 301.57l4.30 4.30M364.09 305.87l4.30 -4.30M369.66 301.57l4.30 4.30M369.66 305.87l4.30 -4.30M375.23 301.57l4.30 4.30M375.23 305.87l4.30 -4.30M380.79 289.54l4.30 4.30M380.79 293.84l4.30 -4.30M386.36 289.54l4.30 4.30M386.36 293.84l4.30 -4.30M391.93 289.54l4.30 4.30M391.93 293.84l4.30 -4.30M397.50 289.54l4.30 4.30M397.50 293.84l4.30 -4.30M403.07 289.54l4.30 4.30M403.07 293.84l4.30 -4.30M408.64 289.54l4.30 4.30M408.64 293.84l4.30 -4.30M414.21 289.54l4.30 4.30M414.21 293.84l4.30 -4.30M419.77 289.54l4.30 4.30M419.77 293.84l4.30 -4.30M425.34 289.54l4.30 4.30M425.34 293.84l4.30 -4.30M430.91 289.54l4.30 4.30M430.91 293.84l4.30 -4.30M436.48 289.54l4.30 4.30M436.48 293.84l4.30 -4.30M442.05 289.54l4.30 4.30M442.05 293.84l4.30 -4.30M447.62 289.54l4.30 4.30M447.62 293.84l4.30 -4.30M453.19 289.54l4.30 4.30M453.19 293.84l4.30 -4.30M458.76 289.54l4.30 4.30M458.76 293.84l4.30 -4.30M464.32 289.54l4.30 4.30M464.32 293.84l4.30 -4.30M469.89 289.54l4.30 4.30M469.89 293.84l4.30 -4.30M475.46 289.54l4.30 4.30M475.46 293.84l4.30 -4.30M481.03 289.54l4.30 4.30M481.03 293.84l4.30 -4.30M486.60 289.54l4.30 4.30M486.60 293.84l4.30 -4.30M492.17 289.54l4.30 4.30M492.17 293.84l4.30 -4.30M497.74 289.54l4.30 4.30M497.74 293.84l4.30 -4.30M503.31 289.54l4.30 4.30M503.31 293.84l4.30 -4.30M508.88 289.54l4.30 4.30M508.88 293.84l4.30 -4.30M514.44 289.54l4.30 4.30M514.44 293.84l4.30 -4.30M520.01 289.54l4.30 4.30M520.01 293.84l4.30 -4.30M525.58 289.54l4.30 4.30M525.58 293.84l4.30 -4.30M531.15 289.54l4.30 4.30M531.15 293.84l4.30 -4.30" stroke="#ff7f0e" stroke-width="1.100" fill="none"/>
</g>
<rect x="299.30" y="235.30" width="245.30" height="174.98" fill="none" stroke="#000" stroke-width="0.750"/>
<text x="310.25" y="421.18" text-anchor="middle" font-size="7.45px" transform="rotate(0.03 310.25 421.18)">0.0</text>
<text x="338.09" y="421.18" text-anchor="middle" font-size="7.45px" transform="rotate(0.03 338.09 421.18)">2.5</text>
<text x="365.94" y="421.18" text-anchor="middle" font-size="7.45px" transform="rotate(0.03 365.94 421.18)">5.0</text>
<text x="393.78" y="421.18" text-anchor="middle" font-size="7.45px" transform="rotate(0.03 393.78 421.18)">7.5</text>
<text x="421.62" y="421.18" text-anchor="middle" font-size="7.45px" transform="rotate(0.03 421.62 421.18)">10.0</text>
<text x="449.47" y="421.18" text-anchor="middle" font-size="7.45px" transform="rotate(0.03 449.47 421.18)">12.5</text>
<text x="477.31" y="421.18" text-anchor="middle" font-size="7.45px" transform="rotate(0.03 477.31 421.18)">15.0</text>
<text x="505.16" y="421.18" text-anchor="middle" font-size="7.45px" transform="rotate(0.03 505.16 421.18)">17.5</text>
<text x="533.00" y="421.18" text-anchor="middle" font-size="7.45px" transform="rotate(0.03 533.00 421.18)">20.0</text>
<text x="421.35" y="432.25" text-anchor="middle" font-size="7.65px" transform="rotate(0.03 421.35 432.25)">Threshold t</text>
<text x="421.65" y="230.24" text-anchor="middle" font-size="9.32px" transform="rotate(0.03 421.65 230.24)">MAE – Complete Signal</text>
<rect x="452.40" y="239.60" width="87.95" height="25.10" rx="1.55" fill="#fff" fill-opacity="0.8" stroke="#ccc" stroke-opacity="0.5" stroke-width="0.777"/>
<path d="M455.70 245.25H470.90" stroke="#1f77b4" stroke-width="1.400" stroke-linecap="square"/>
<circle cx="463.47" cy="245.25" r="2.33" fill="#1f77b4" stroke="#1f77b4" stroke-width="0.777"/>
<text x="476.95" y="248.15" font-size="7.72px" transform="rotate(0.03 476.95 248.15)">Hampel Filter</text>
<path d="M455.70 256.80H470.90" stroke="#ff7f0e" stroke-width="1.400" stroke-linecap="square"/>
<path d="M461.32 254.65l4.30 4.30M461.32 258.95l4.30 -4.30" stroke="#ff7f0e" stroke-width="1.100" fill="none"/>
<text x="476.95" y="259.70" font-size="7.72px" transform="rotate(0.03 476.95 259.70)">Hampel Variant</text>
</g>
</svg>
</body></html>
